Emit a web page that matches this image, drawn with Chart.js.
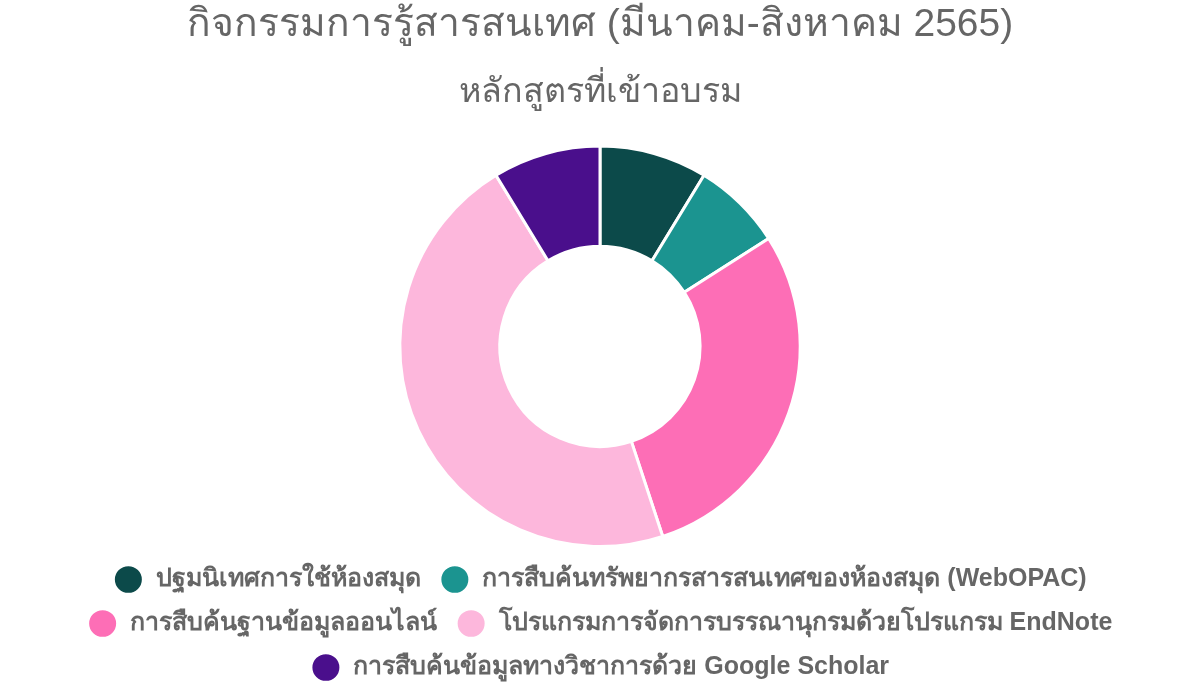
<!DOCTYPE html>
<html>
<head>
<meta charset="utf-8">
<script src="https://cdn.jsdelivr.net/npm/chart.js@4"></script>
<style>
html,body{margin:0;padding:0;background:#fff;}
#wrap{width:1200px;height:700px;}
</style>
</head>
<body>
<div id="wrap"><canvas id="c"></canvas></div>
<script>
const titleText = "กิจกรรมการรู้สารสนเทศ (มีนาคม-สิงหาคม 2565)";
const subtitleText = "หลักสูตรที่เข้าอบรม";
const categories = [
  "ปฐมนิเทศการใช้ห้องสมุด",
  "การสืบค้นทรัพยากรสารสนเทศของห้องสมุด (WebOPAC)",
  "การสืบค้นฐานข้อมูลออนไลน์",
  "โปรแกรมการจัดการบรรณานุกรมด้วยโปรแกรม EndNote",
  "การสืบค้นข้อมูลทางวิชาการด้วย Google Scholar"
];
const values = [6, 5, 20, 32, 6];
const colors = ["#0c4a4a", "#1b9490", "#fd6eb6", "#fdb7dc", "#4a0f8c"];

const ff = "'Liberation Sans', Arial, sans-serif";
new Chart(document.getElementById('c'), {
  type: 'doughnut',
  data: {
    labels: categories,
    datasets: [{
      data: values,
      backgroundColor: colors,
      borderColor: '#ffffff',
      borderWidth: 3,
      hoverOffset: 0
    }]
  },
  options: {
    responsive: true,
    maintainAspectRatio: false,
    animation: false,
    cutout: '50%',
    layout: { padding: { top: 0, bottom: 10 } },
    plugins: {
      title: {
        display: true,
        text: titleText,
        color: '#666666',
        font: { family: ff, size: 39, weight: 'normal' },
        padding: { top: 2, bottom: 13 }
      },
      subtitle: {
        display: true,
        text: subtitleText,
        color: '#666666',
        font: { family: ff, size: 34, weight: 'normal' },
        padding: { top: 10, bottom: 32 }
      },
      legend: {
        position: 'bottom',
        labels: {
          usePointStyle: true,
          pointStyleWidth: 30,
          boxHeight: 21,
          pointStyle: 'circle',
          color: '#666666',
          font: { family: ff, size: 25, weight: 'bold' },
          padding: 19
        }
      },
      tooltip: { enabled: false }
    }
  }
});
</script>
</body>
</html>
